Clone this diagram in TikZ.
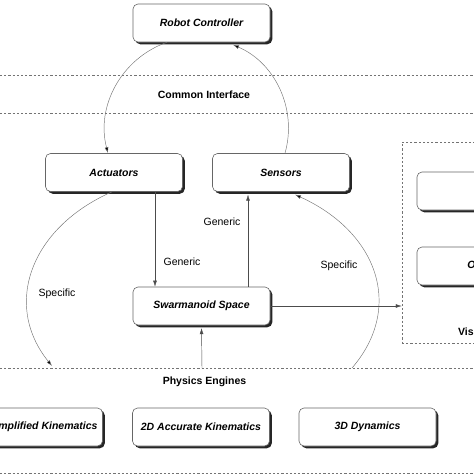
\documentclass[tikz,border=0pt]{standalone}
\usepackage{fontspec}
\setmainfont{Liberation Sans}
\usetikzlibrary{shadows,arrows.meta}
\begin{document}
\begin{tikzpicture}[x=1pt,y=-1pt,
  box/.style={draw=black!60, line width=0.6pt, fill=white, rounded corners=5pt,
    minimum width=137pt, minimum height=38pt, inner sep=0pt,
    font=\fontsize{10.5}{12.6}\selectfont\bfseries\itshape,
    drop shadow={shadow xshift=2.3pt, shadow yshift=-2.3pt, fill=black!85, opacity=1}},
  sect/.style={font=\fontsize{10.5}{12.6}\selectfont\bfseries},
  lbl/.style={font=\fontsize{10.5}{12.6}\selectfont},
  sep/.style={draw=black!55, line width=0.5pt, dash pattern=on 2.2pt off 2pt},
  arr/.style={draw=black!70, line width=0.45pt, -{Latex[length=6pt,width=3.8pt]}},
  curve/.style={draw=black!55, line width=0.45pt, -{Latex[length=6pt,width=3.8pt,fill=black]}}]
\useasboundingbox (0,0) rectangle (474,474);
\clip (0,0) rectangle (474,474);

% section separators
\draw[sep] (0,75) -- (474,75);
\draw[sep] (0,113) -- (474,113);
\draw[sep] (0,368) -- (474,368);
\draw[sep] (0,473) -- (474,473);

% visualization container
\node[sep, draw, minimum width=100pt, minimum height=201pt, inner sep=0pt] (vis) at (452,242.5) {};
\node[sect, anchor=west] (vislbl) at (454.5,332) {Visualization};

% boxes
\node[box] (rc)  at (201.5,23)  {Robot Controller};
\node[box] (act) at (114,172.5) {Actuators};
\node[box] (sen) at (281,172.5) {Sensors};
\node[box] (ss)  at (201.5,306) {Swarmanoid Space};
\node[box, minimum width=119pt] (pe1) at (43,427) {Simplified Kinematics};
\node[box] (pe2) at (201,427)   {2D Accurate Kinematics};
\node[box] (pe3) at (367.5,427) {3D Dynamics};
\node[box] (v1)  at (485.5,191) {};
\node[box, minimum width=142pt] (v2) at (488,266) {OpenGL};

% section labels
\node[sect] (ci) at (204,95) {Common Interface};
\node[sect] (pe) at (204.5,382) {Physics Engines};

% connector ends on the physics separator
\coordinate (peL) at (52,366);
\coordinate (peM) at (202,368);
\coordinate (peR) at (352,368);

% common interface loop
\draw[curve] ([xshift=-34.5pt]rc.south) .. controls (122,58) and (95.6,105.8) .. ([xshift=-6pt]act.north);
\draw[curve] ([xshift=4pt]sen.north) .. controls (297.5,109) and (275,62.7) .. ([xshift=31.5pt,yshift=-2.5pt]rc.south);

% generic links
\draw[arr] ([xshift=41pt]act.south) -- ([xshift=41pt]act.south |- ss.north);
\draw[arr] ([xshift=46.5pt]ss.north) -- ([xshift=-33pt,yshift=-2.8pt]sen.south);
\node[lbl] (g1) at (182,262) {Generic};
\node[lbl] (g2) at (222,222) {Generic};

% specific links
\draw[curve] ([xshift=-2pt]act.south) .. controls (30,228) and (2.8,305) .. (peL);
\draw[curve] (peR) .. controls (404,307.7) and (378,232.3) .. ([xshift=14pt,yshift=-2.8pt]sen.south);
\node[lbl] (s1) at (57,294) {Specific};
\node[lbl] (s2) at (339,266) {Specific};

% space to visualization, physics to space
\draw[arr] (ss.east) -- (ss.east -| vis.west);
\draw[arr] (peM) -- ([yshift=-2.8pt]ss.south);
\end{tikzpicture}
\end{document}
